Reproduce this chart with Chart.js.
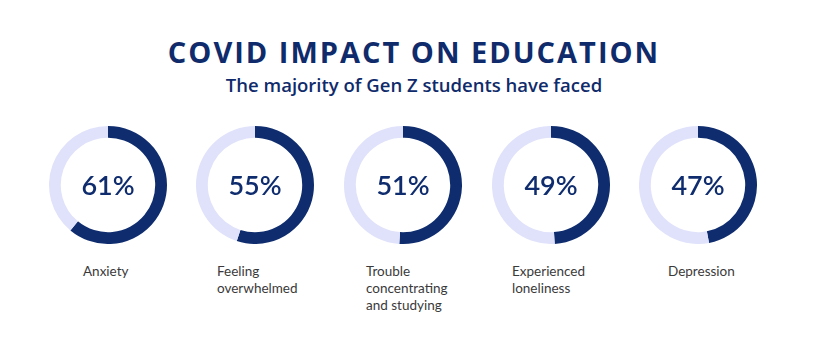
<!DOCTYPE html>
<html>
<head>
<meta charset="utf-8">
<script src="https://cdn.jsdelivr.net/npm/chart.js@4"></script>
<style>
  html, body { margin: 0; padding: 0; background: #ffffff; }
  #wrap { position: relative; width: 828px; height: 345px; overflow: hidden; font-family: "Lato", "Open Sans", sans-serif; }
  #title { position: absolute; left: 0; width: 828px; top: 32px; text-align: center; font-family: "Open Sans", sans-serif; font-size: 29px; font-weight: 700; color: #0f2b6b; letter-spacing: 2px; }
  #subtitle { position: absolute; left: 0; width: 828px; top: 72px; text-align: center; font-family: "Open Sans", sans-serif; font-size: 18.5px; font-weight: 600; color: #0f2b6b; }
  .lbl { position: absolute; font-size: 13.5px; line-height: 17px; color: #3a3a3a; white-space: nowrap; }
</style>
</head>
<body>
<div id="wrap">
  <div id="title"></div>
  <div id="subtitle"></div>
</div>
<script>
const titleText = "COVID IMPACT ON EDUCATION";
const subtitleText = "The majority of Gen Z students have faced";
const categories = [["Anxiety"], ["Feeling", "overwhelmed"], ["Trouble", "concentrating", "and studying"], ["Experienced", "loneliness"], ["Depression"]];
const percentages = [61, 55, 51, 49, 47];

const centersX = [108, 255, 403, 551, 698];
const labelX = [83, 217, 366, 512, 668];
const centerY = 185;
const size = 118;
const dark = "#0f2d6e";
const light = "#dfe2fa";

document.getElementById("title").textContent = titleText;
document.getElementById("subtitle").textContent = subtitleText;
const wrap = document.getElementById("wrap");

const centerText = {
  id: "centerText",
  afterDraw(chart, args, opts) {
    const { ctx } = chart;
    const meta = chart.getDatasetMeta(0).data[0];
    ctx.save();
    ctx.fillStyle = dark;
    ctx.font = '600 27px "Lato", "Open Sans", sans-serif';
    ctx.textAlign = "center";
    ctx.textBaseline = "middle";
    ctx.fillText(opts.text, meta.x, meta.y + 1);
    ctx.restore();
  }
};

percentages.forEach((p, i) => {
  const cv = document.createElement("canvas");
  cv.width = size; cv.height = size;
  cv.style.position = "absolute";
  cv.style.left = (centersX[i] - size / 2) + "px";
  cv.style.top = (centerY - size / 2) + "px";
  cv.style.width = size + "px";
  cv.style.height = size + "px";
  wrap.appendChild(cv);
  new Chart(cv, {
    type: "doughnut",
    data: {
      labels: ["Yes", "No"],
      datasets: [{
        data: [p, 100 - p],
        backgroundColor: [dark, light],
        borderWidth: 0,
        hoverOffset: 0
      }]
    },
    options: {
      responsive: false,
      animation: false,
      cutout: "80%",
      layout: { padding: 0 },
      plugins: {
        legend: { display: false },
        tooltip: { enabled: false },
        centerText: { text: p + "%" }
      },
      events: []
    },
    plugins: [centerText]
  });

  const lb = document.createElement("div");
  lb.className = "lbl";
  lb.style.left = labelX[i] + "px";
  lb.style.top = "263px";
  lb.innerHTML = categories[i].join("<br>");
  wrap.appendChild(lb);
});
</script>
</body>
</html>
